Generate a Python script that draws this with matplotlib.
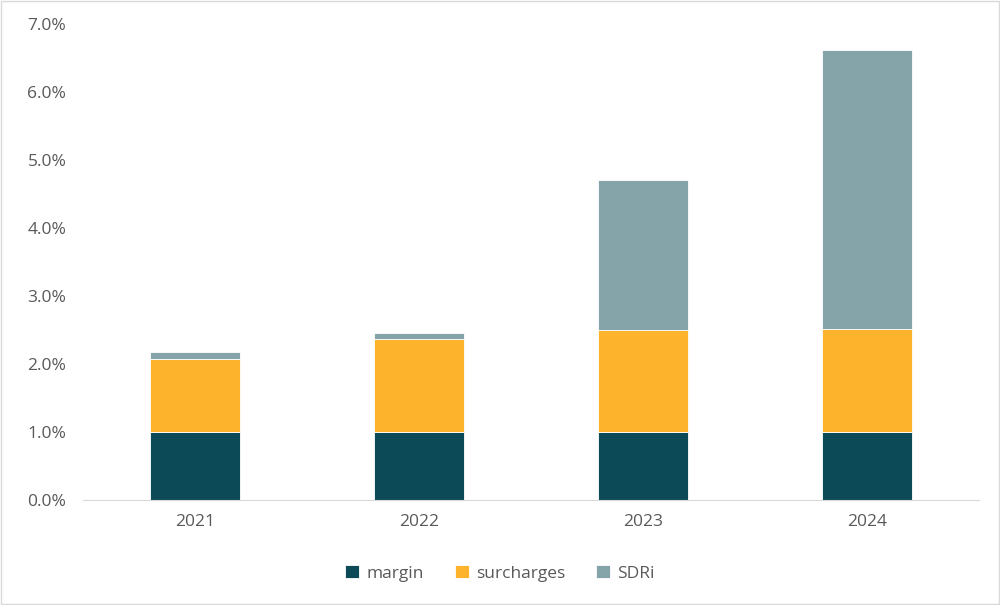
import matplotlib.pyplot as plt
from matplotlib.ticker import FuncFormatter

# Years and stacked components (percent)
years = ['2021', '2022', '2023', '2024']
margin = [1.0, 1.0, 1.0, 1.0]
surcharges = [1.07, 1.36, 1.50, 1.51]
sdri = [0.10, 0.10, 2.20, 4.11]

plt.rcParams['font.family'] = ['Open Sans', 'DejaVu Sans']

fig = plt.figure(figsize=(10, 6.05), dpi=100)
ax = fig.add_axes([0.083, 0.1736, 0.896, 0.7868])

x = range(len(years))
bottom2 = [m + s for m, s in zip(margin, surcharges)]
ax.bar(x, margin, width=0.4, color='#0D4A57', edgecolor='white', linewidth=0.6, label='margin')
ax.bar(x, surcharges, width=0.4, bottom=margin, color='#FDB32B', edgecolor='white', linewidth=0.6, label='surcharges')
ax.bar(x, sdri, width=0.4, bottom=bottom2, color='#84A4AA', edgecolor='white', linewidth=0.6, label='SDRi')

ax.set_xlim(-0.5, 3.5)
ax.set_ylim(0, 7)
ax.set_yticks(range(8))
ax.yaxis.set_major_formatter(FuncFormatter(lambda v, p: f'{v:.1f}%'))
ax.set_xticks(list(x))
ax.set_xticklabels(years)

for s in ['top', 'right', 'left']:
    ax.spines[s].set_visible(False)
ax.spines['bottom'].set_color('#D9D9D9')
ax.tick_params(axis='both', length=0, labelsize=12.5, colors='#595959')
ax.tick_params(axis='x', pad=10)
ax.tick_params(axis='y', pad=12)

leg = fig.legend(loc='center', bbox_to_anchor=(0.5, 0.052), ncol=3, frameon=False,
                 fontsize=12.5, handlelength=0.8, handleheight=0.8, handletextpad=0.4,
                 columnspacing=1.8)
for t in leg.get_texts():
    t.set_color('#595959')

# light frame around the figure
fig.patches.append(plt.Rectangle((0.001, 0.001), 0.998, 0.997, transform=fig.transFigure,
                                 fill=False, edgecolor='#D9D9D9', linewidth=1))

fig.savefig('out.png', dpi=100)
